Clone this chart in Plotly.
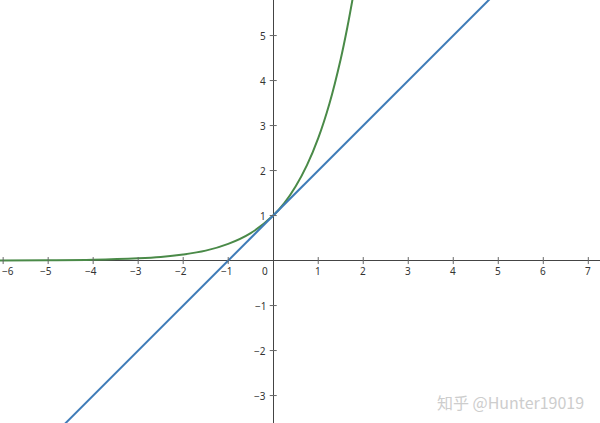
import plotly.graph_objects as go

# green curve, values
curve_x = [-6.1, -5, -4, -3, -2.5, -2, -1.5, -1, -0.5, 0, 0.25, 0.5, 0.75, 1, 1.25, 1.5, 1.65, 1.77]
curve_y = [0.002, 0.007, 0.018, 0.05, 0.08, 0.135, 0.22, 0.37, 0.61, 1.0, 1.28, 1.65, 2.12, 2.72, 3.49, 4.48, 5.2, 5.85]

# blue straight line, end points
line_x = [-4.7, 4.85]
line_y = [-3.7, 5.85]

x_ticks = [-6, -5, -4, -3, -2, -1, 1, 2, 3, 4, 5, 6, 7]
y_ticks = [-3, -2, -1, 1, 2, 3, 4, 5]

x_min, x_max = -6.07, 7.26
y_min, y_max = -3.61, 5.79

fig = go.Figure()

fig.add_trace(go.Scatter(x=curve_x, y=curve_y, mode="lines", line=dict(color="#4a8a48", width=2, shape="spline"),
                         hoverinfo="skip"))
fig.add_trace(go.Scatter(x=line_x, y=line_y, mode="lines", line=dict(color="#3f7cb8", width=2),
                         hoverinfo="skip"))

# little tick marks on the axes
fig.add_trace(go.Scatter(x=x_ticks, y=[0] * len(x_ticks), mode="markers",
                         marker=dict(symbol="line-ns-open", size=5, color="#666", line=dict(color="#666", width=1)),
                         hoverinfo="skip"))
fig.add_trace(go.Scatter(x=[0] * len(y_ticks), y=y_ticks, mode="markers",
                         marker=dict(symbol="line-ew-open", size=5, color="#666", line=dict(color="#666", width=1)),
                         hoverinfo="skip"))

lbl_font = dict(size=10, color="#333", family="Noto Sans, DejaVu Sans, sans-serif")
anns = []
for t in x_ticks:
    a = dict(x=t, y=0, text=("\u2212" + str(-t)) if t < 0 else str(t), showarrow=False,
             xanchor="center", yanchor="top", yshift=-1, xshift=-2 if t < 0 else 0, font=lbl_font)
    if t == -6:
        # sits right at the left edge
        a.update(x=x_min, xanchor="left", xshift=0)
    anns.append(a)
for t in y_ticks:
    anns.append(dict(x=0, y=t, text=("\u2212" + str(-t)) if t < 0 else str(t), showarrow=False,
                     xanchor="right", yanchor="middle", xshift=-5, font=lbl_font))
anns.append(dict(x=0, y=0, text="0", showarrow=False, xanchor="right", yanchor="top",
                 xshift=-3, yshift=-1, font=lbl_font))
# watermark
anns.append(dict(x=0.977, y=0.05, xref="paper", yref="paper", text="知乎 @Hunter19019", showarrow=False,
                 xanchor="right", yanchor="middle",
                 font=dict(size=16, color="#cdcdcd", family="Noto Sans CJK SC")))

fig.update_layout(
    width=600, height=423,
    margin=dict(l=0, r=0, t=0, b=0),
    paper_bgcolor="white", plot_bgcolor="white",
    showlegend=False,
    annotations=anns,
    xaxis=dict(range=[x_min, x_max], showgrid=False, showticklabels=False, ticks="",
               zeroline=True, zerolinecolor="#444", zerolinewidth=1),
    yaxis=dict(range=[y_min, y_max], showgrid=False, showticklabels=False, ticks="",
               zeroline=True, zerolinecolor="#444", zerolinewidth=1),
)

fig.write_html("out.html", config={"displayModeBar": False},
               post_script="document.body.style.margin='0';")
